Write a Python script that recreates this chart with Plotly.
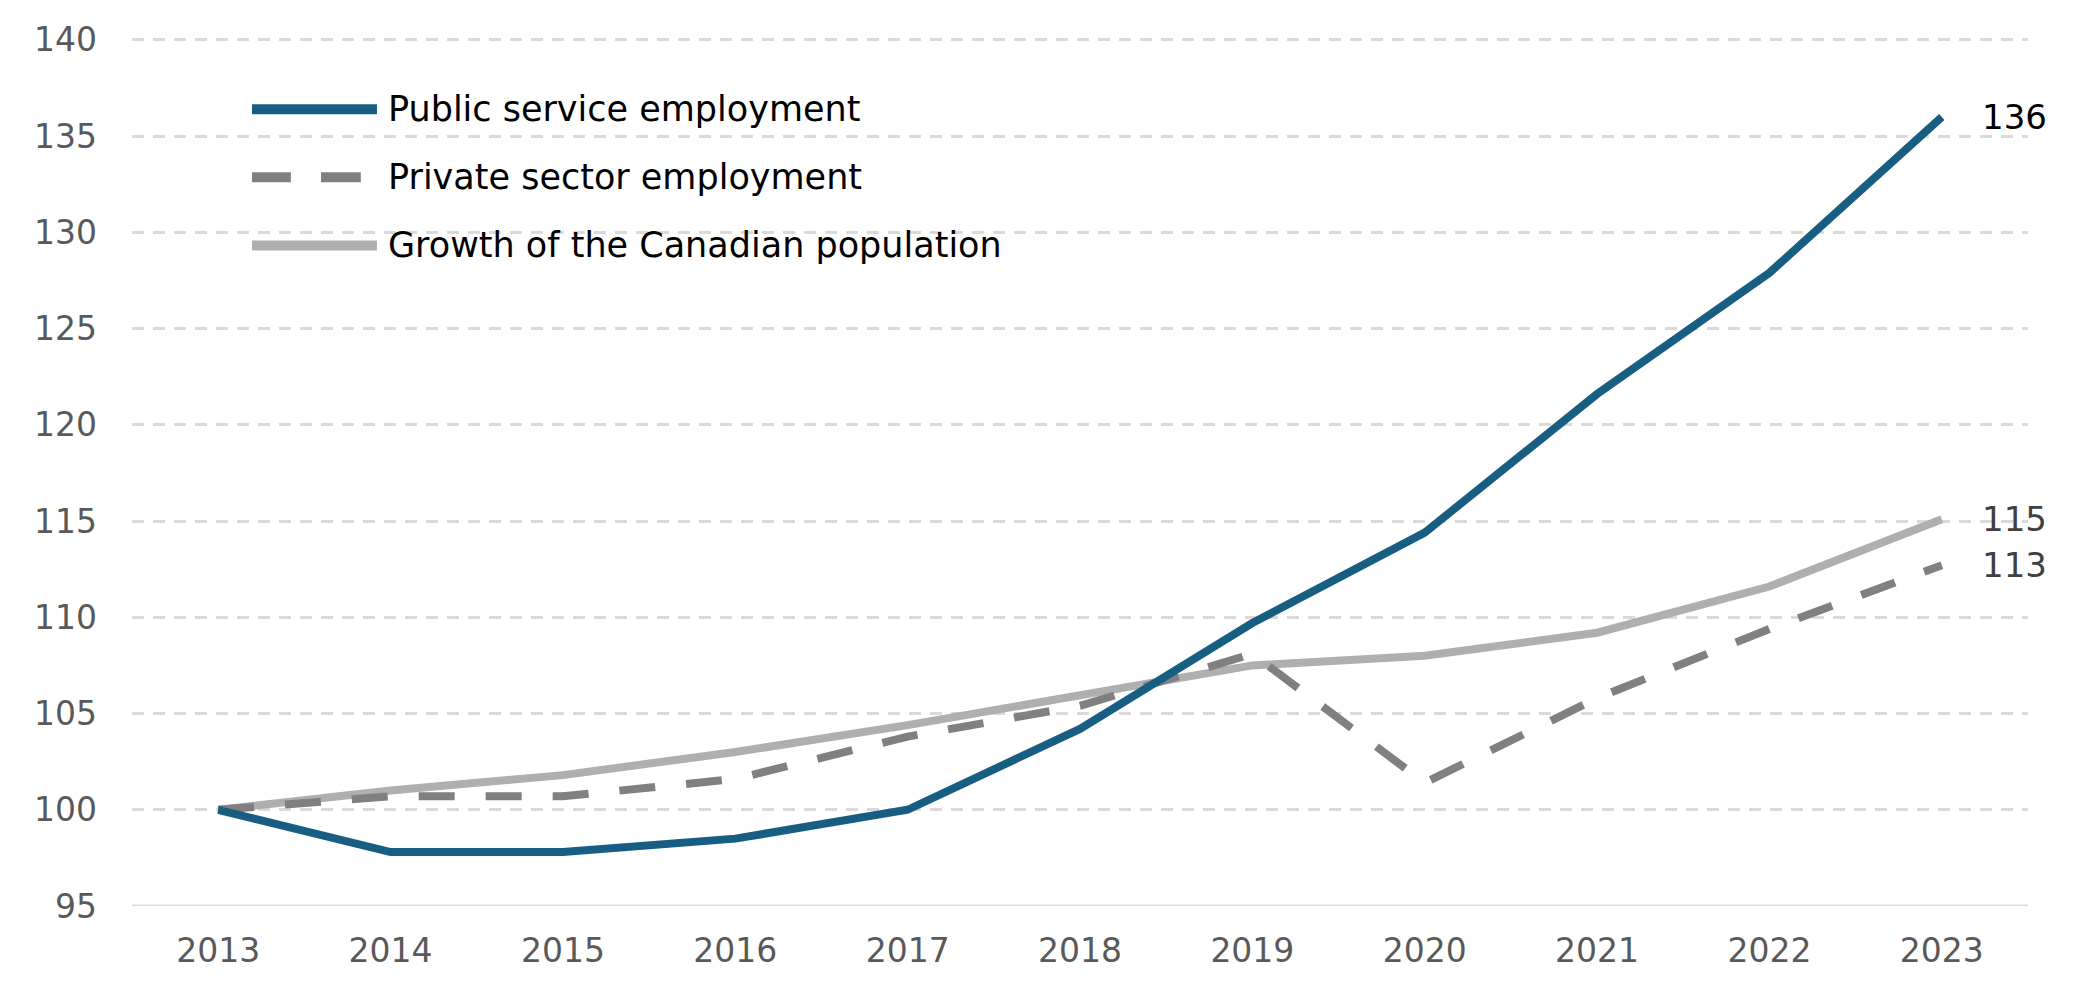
import plotly.graph_objects as go

years = [2013, 2014, 2015, 2016, 2017, 2018, 2019, 2020, 2021, 2022, 2023]
public_service = [100.0, 97.8, 97.8, 98.5, 100.0, 104.2, 109.7, 114.4, 121.6, 127.9, 136.0]
private_sector = [100.0, 100.7, 100.7, 101.6, 103.8, 105.4, 108.1, 101.4, 105.8, 109.4, 112.7]
population = [100.0, 101.0, 101.8, 103.0, 104.4, 105.9, 107.5, 108.0, 109.2, 111.6, 115.1]

series_names = ["Public service employment", "Private sector employment", "Growth of the Canadian population"]
end_labels = ["136", "113", "115"]
y_ticks = [95, 100, 105, 110, 115, 120, 125, 130, 135, 140]

C_PUB = "#175e82"
C_PRI = "#808080"
C_POP = "#afafaf"
FONT = "DejaVu Sans"

fig = go.Figure()
fig.add_trace(go.Scatter(x=years, y=population, mode="lines", name=series_names[2],
                         line=dict(color=C_POP, width=8), showlegend=False))
fig.add_trace(go.Scatter(x=years, y=private_sector, mode="lines", name=series_names[1],
                         line=dict(color=C_PRI, width=8, dash="36px,31px"), showlegend=False))
fig.add_trace(go.Scatter(x=years, y=public_service, mode="lines", name=series_names[0],
                         line=dict(color=C_PUB, width=8), showlegend=False))

# end-of-line value labels
for val, lab, col in [(public_service[-1], end_labels[0], "#000000"),
                      (private_sector[-1], end_labels[1], "#404040"),
                      (population[-1], end_labels[2], "#404040")]:
    fig.add_annotation(x=years[-1], y=val, text=lab, showarrow=False, xanchor="left",
                       xshift=38, yshift=0, font=dict(family=FONT, size=34, color=col))

# custom legend (long line samples)
legend_rows = [(0.9180, C_PUB, "solid"), (0.8395, C_PRI, "dash"), (0.7610, C_POP, "solid")]
for (yp, col, dash), name in zip(legend_rows, series_names):
    if dash == "solid":
        fig.add_shape(type="line", xref="paper", yref="paper", x0=0.0633, x1=0.1292, y0=yp, y1=yp,
                      line=dict(color=col, width=10))
    else:
        fig.add_shape(type="line", xref="paper", yref="paper", x0=0.0633, x1=0.0838, y0=yp, y1=yp,
                      line=dict(color=col, width=10))
        fig.add_shape(type="line", xref="paper", yref="paper", x0=0.0997, x1=0.1207, y0=yp, y1=yp,
                      line=dict(color=col, width=10))
    fig.add_annotation(xref="paper", yref="paper", x=0.134, y=yp, text=name, showarrow=False,
                       xanchor="left", yanchor="middle", font=dict(family=FONT, size=35, color="#000000"))

fig.update_layout(
    width=2078, height=987,
    margin=dict(l=132, r=50, t=38, b=81),
    paper_bgcolor="white", plot_bgcolor="white",
    showlegend=False,
    font=dict(family=FONT, color="#595959", size=33),
)
fig.update_xaxes(range=[2012.5, 2023.5], tickvals=years, ticktext=[str(y) for y in years],
                 showgrid=False, zeroline=False, showline=False,
                 tickfont=dict(family=FONT, size=33, color="#595959"), ticks="", ticklabelstandoff=22)
fig.update_yaxes(range=[95, 140.1], tickvals=y_ticks, showgrid=True, gridcolor="#dadada", gridwidth=3,
                 griddash="12px,9px", zeroline=False, showline=False, ticks="",
                 tickfont=dict(family=FONT, size=33, color="#595959"), ticklabelstandoff=34)
# solid baseline at 95
fig.add_shape(type="line", xref="paper", yref="y", x0=0, x1=1, y0=95, y1=95,
              line=dict(color="#d9d9d9", width=3), layer="below")

fig.write_html("out.html")
